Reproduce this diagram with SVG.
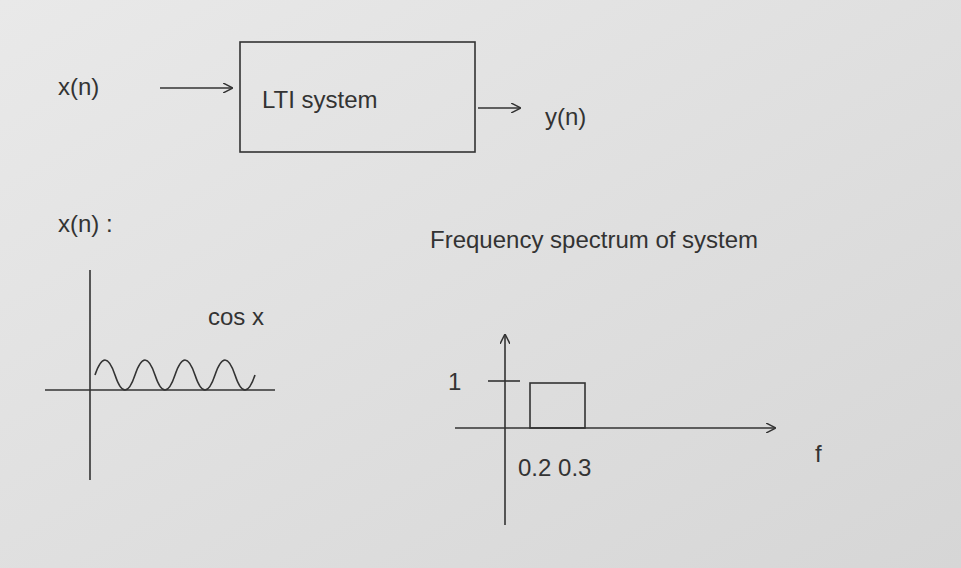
<svg xmlns="http://www.w3.org/2000/svg" width="961" height="568" viewBox="0 0 961 568">
<defs>
<linearGradient id="bg" x1="0" y1="0" x2="1" y2="1"><stop offset="0" stop-color="#e9e9e9"/><stop offset="1" stop-color="#d6d6d6"/></linearGradient>
<marker id="ah" viewBox="0 0 10 10" refX="9" refY="5" markerWidth="10" markerHeight="10" markerUnits="userSpaceOnUse" orient="auto"><path d="M0,0 L10,5 L0,10" fill="none" stroke="#333" stroke-width="1.5"/></marker>
</defs>
<style>
.s{fill:none;stroke:#333;stroke-width:1.6}
.t{font-family:"Liberation Sans",sans-serif;fill:#333;font-size:24px}
</style>
<rect width="961" height="568" fill="url(#bg)"/>
<g id="xn"><text class="t" x="58" y="95">x(n)</text></g>
<g id="lti"><rect class="s" x="240" y="42" width="235" height="110"/><text class="t" x="262" y="108">LTI system</text></g>
<g id="yn"><text class="t" x="545" y="125">y(n)</text></g>
<g id="connectors">
<line class="s" x1="160" y1="88" x2="232" y2="88" marker-end="url(#ah)"/>
<line class="s" x1="478" y1="108" x2="520" y2="108" marker-end="url(#ah)"/>
</g>
<g id="xlabel"><text class="t" x="58" y="232" font-size="20">x(n) :</text></g>
<g id="cosplot">
<line class="s" x1="90" y1="270" x2="90" y2="480"/>
<line class="s" x1="45" y1="390" x2="275" y2="390"/>
<path class="s" d="M95,375 Q105,345 115,375 T135,375 T155,375 T175,375 T195,375 T215,375 T235,375 T255,375"/>
<text class="t" x="208" y="325" font-size="22">cos x</text>
</g>
<g id="spectrum">
<text class="t" x="430" y="248">Frequency spectrum of system</text>
<line class="s" x1="505" y1="525" x2="505" y2="335" marker-end="url(#ah)"/>
<line class="s" x1="455" y1="428" x2="775" y2="428" marker-end="url(#ah)"/>
<line class="s" x1="488" y1="381" x2="520" y2="381"/>
<rect class="s" x="530" y="383" width="55" height="45"/>
<text class="t" x="448" y="390" font-size="18">1</text>
<text class="t" x="518" y="476" font-size="17">0.2 0.3</text>
<text class="t" x="815" y="462" font-size="30">f</text>
</g>
</svg>
